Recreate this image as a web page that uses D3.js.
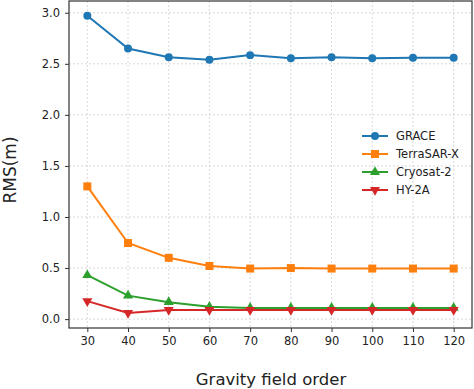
<!DOCTYPE html>
<html>
<head>
<meta charset="utf-8">
<script src="https://cdn.jsdelivr.net/npm/d3@7"></script>
<style>
  body { margin: 0; background: #fff; }
  svg text { font-family: "DejaVu Sans", sans-serif; fill: #222; }
</style>
</head>
<body>
<div id="chart"></div>
<script>
var orders = [30, 40, 50, 60, 70, 80, 90, 100, 110, 120];
var grace = [2.97, 2.65, 2.565, 2.54, 2.585, 2.555, 2.565, 2.555, 2.56, 2.56];
var terrasar = [1.30, 0.745, 0.60, 0.52, 0.495, 0.50, 0.495, 0.495, 0.495, 0.495];
var cryosat = [0.43, 0.23, 0.166, 0.12, 0.11, 0.11, 0.11, 0.11, 0.11, 0.11];
var hy2a = [0.176, 0.06, 0.09, 0.09, 0.09, 0.09, 0.09, 0.09, 0.09, 0.09];
var yTicks = [0.0, 0.5, 1.0, 1.5, 2.0, 2.5, 3.0];

var seriesList = [
  { name: "GRACE", values: grace, color: "#1f77b4", marker: "circle" },
  { name: "TerraSAR-X", values: terrasar, color: "#ff7f0e", marker: "square" },
  { name: "Cryosat-2", values: cryosat, color: "#2ca02c", marker: "up" },
  { name: "HY-2A", values: hy2a, color: "#d62728", marker: "down" }
];

var width = 474, height = 389;
var margin = { top: 1, right: 2, bottom: 61, left: 69 };
var w = width - margin.left - margin.right,
    h = height - margin.top - margin.bottom;

var svg = d3.select("#chart").append("svg")
  .attr("width", width)
  .attr("height", height);

var g = svg.append("g")
  .attr("transform", "translate(" + margin.left + "," + margin.top + ")");

var xScale = d3.scaleLinear().domain([25.5, 124.5]).range([0, w]);
var yScale = d3.scaleLinear().domain([-0.087, 3.115]).range([h, 0]);

// grid
g.append("g").selectAll("line.vx")
  .data(orders).enter().append("line")
  .attr("x1", function(d) { return xScale(d); })
  .attr("x2", function(d) { return xScale(d); })
  .attr("y1", 0).attr("y2", h)
  .style("stroke", "#d8d8d8").style("stroke-width", 1)
  .style("stroke-dasharray", "2,2");

g.append("g").selectAll("line.hy")
  .data(yTicks).enter().append("line")
  .attr("x1", 0).attr("x2", w)
  .attr("y1", function(d) { return yScale(d); })
  .attr("y2", function(d) { return yScale(d); })
  .style("stroke", "#d8d8d8").style("stroke-width", 1)
  .style("stroke-dasharray", "2,2");

// axes
var xAxis = d3.axisBottom(xScale).tickValues(orders).tickSizeOuter(0).tickSize(4).tickPadding(5);
var yAxis = d3.axisLeft(yScale).tickValues(yTicks).tickSizeOuter(0).tickSize(4).tickPadding(5)
  .tickFormat(d3.format(".1f"));

var gx = g.append("g").attr("transform", "translate(0," + h + ")").call(xAxis);
var gy = g.append("g").call(yAxis);
[gx, gy].forEach(function(ax) {
  ax.select(".domain").remove();
  ax.selectAll("text").style("font-size", "11.5px").style("font-family", "DejaVu Sans, sans-serif").style("fill", "#222");
  ax.selectAll(".tick line").style("stroke", "#333");
});

// frame
g.append("rect")
  .attr("x", 0).attr("y", 0).attr("width", w).attr("height", h)
  .style("fill", "none").style("stroke", "#333").style("stroke-width", 1.2);

// lines
var line = d3.line()
  .x(function(d, i) { return xScale(orders[i]); })
  .y(function(d) { return yScale(d); });

var symbolFor = function(m) {
  if (m === "circle") return d3.symbol().type(d3.symbolCircle).size(50)();
  if (m === "square") return d3.symbol().type(d3.symbolSquare).size(64)();
  return d3.symbol().type(d3.symbolTriangle).size(44)();
};

seriesList.forEach(function(s) {
  g.append("path")
    .datum(s.values)
    .attr("d", line)
    .style("fill", "none")
    .style("stroke", s.color)
    .style("stroke-width", 2);

  g.selectAll(null)
    .data(s.values).enter().append("path")
    .attr("d", symbolFor(s.marker))
    .attr("transform", function(d, i) {
      var t = "translate(" + xScale(orders[i]) + "," + yScale(d) + ")";
      return s.marker === "down" ? t + " rotate(180)" : t;
    })
    .style("fill", s.color);
});

// legend
var legend = g.append("g").attr("transform", "translate(" + (362 - margin.left) + "," + (136 - margin.top) + ")");
seriesList.forEach(function(s, i) {
  var row = legend.append("g").attr("transform", "translate(0," + (i * 18) + ")");
  row.append("line").attr("x1", 0).attr("x2", 26).attr("y1", 0).attr("y2", 0)
    .style("stroke", s.color).style("stroke-width", 2);
  row.append("path").attr("d", symbolFor(s.marker))
    .attr("transform", "translate(13,0)" + (s.marker === "down" ? " rotate(180)" : ""))
    .style("fill", s.color);
  row.append("text").attr("x", 34).attr("y", 0).attr("dy", "0.35em")
    .style("font-size", "11.5px").text(s.name);
});

// axis titles
svg.append("text")
  .attr("x", 271).attr("y", 385)
  .style("text-anchor", "middle").style("font-size", "16.5px")
  .text("Gravity field order");

svg.append("text")
  .attr("transform", "translate(16,170) rotate(-90)")
  .style("text-anchor", "middle").style("font-size", "17px")
  .text("RMS(m)");
</script>
</body>
</html>
